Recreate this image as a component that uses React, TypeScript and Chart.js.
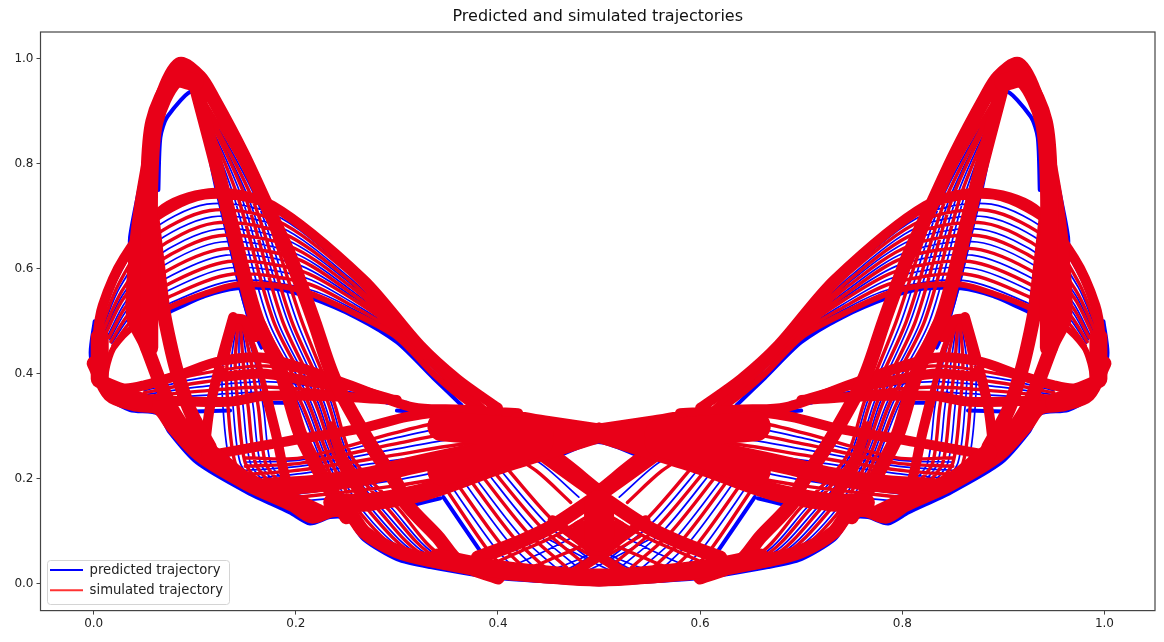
import React, { useEffect, useRef } from "react";
import { Chart, registerables } from "chart.js";
Chart.register(...registerables);

const chartTitle = "Predicted and simulated trajectories";
const xTickValues = [0, 0.2, 0.4, 0.6, 0.8, 1];
const yTickValues = [0, 0.2, 0.4, 0.6, 0.8, 1];

const predictedHatchLeft = [
  [.020,.450,.040,.497,.076,.535,.140,.578,.214,.560,.260,.520,.300,.475,.370,.345],
  [.018,.458,.037,.511,.072,.557,.135,.602,.208,.584,.258,.533,.300,.479,.373,.343],
  [.016,.465,.034,.524,.068,.578,.131,.626,.202,.608,.257,.546,.300,.483,.376,.340],
  [.014,.473,.032,.538,.064,.600,.126,.651,.197,.631,.255,.559,.300,.486,.379,.338],
  [.011,.481,.029,.551,.060,.621,.122,.675,.191,.655,.254,.572,.300,.490,.382,.335],
  [.009,.488,.026,.565,.056,.643,.117,.699,.185,.679,.252,.585,.300,.494,.385,.333],
  [.007,.496,.023,.579,.052,.665,.112,.723,.179,.703,.251,.598,.300,.498,.388,.331],
  [.098,.944,.122,.756,.154,.5,.201,.35,.224,.24,.251,.127,.3,.052,.4,.012],
  [.096,.951,.13,.752,.163,.5,.208,.35,.23,.24,.26,.13,.308,.052,.408,.012],
  [.095,.958,.137,.748,.173,.5,.214,.35,.236,.24,.269,.133,.317,.052,.416,.012],
  [.093,.965,.145,.744,.182,.5,.221,.35,.241,.24,.278,.136,.325,.052,.424,.012],
  [.092,.972,.152,.74,.192,.5,.227,.35,.247,.24,.287,.139,.334,.052,.432,.012],
  [.09,.979,.16,.736,.201,.5,.234,.35,.253,.24,.296,.142,.342,.052,.44,.012],
  [.338,.19,.384,.058,.405,.01],
  [.349,.199,.397,.069,.423,.016],
  [.361,.208,.41,.081,.441,.022],
  [.372,.216,.422,.092,.459,.028],
  [.384,.225,.435,.104,.477,.034],
  [.395,.234,.448,.115,.495,.04],
  [.14,.5,.128,.42,.128,.335,.135,.23,.15,.19],
  [.142,.5,.136,.42,.138,.335,.145,.23,.16,.19],
  [.144,.5,.144,.42,.148,.335,.155,.23,.17,.19],
  [.146,.5,.152,.42,.158,.335,.165,.23,.18,.19],
  [.148,.5,.16,.42,.168,.335,.175,.23,.19,.19],
  [.05,.352,.1,.358,.17,.365,.24,.358,.3,.345],
  [.05,.36,.1,.374,.17,.385,.24,.37,.3,.349],
  [.05,.368,.1,.39,.17,.405,.24,.382,.3,.353],
  [.15,.2,.205,.21,.297,.235,.35,.25,.42,.27],
  [.15,.216,.205,.224,.297,.256,.35,.274,.42,.29],
  [.15,.232,.205,.236,.297,.277,.35,.298,.42,.31],
  [.19,.155,.3,.175,.37,.195],
  [.19,.168,.3,.198,.37,.225],
  [.40,.022,.435,.052,.47,.085,.50,.12],
  [.43,.012,.465,.035,.495,.06,.525,.095],
  [.425,.29,.46,.24,.495,.18],
  [.412,.265,.445,.225,.48,.165],
  [.45,.085,.49,.045,.53,.008],
  [.47,.098,.51,.05,.55,.008],
  [.55,.085,.51,.045,.47,.008],
  [.53,.098,.49,.05,.45,.008],
];

const predictedHatchRight = [
  [.980,.450,.960,.497,.924,.535,.860,.578,.786,.560,.740,.520,.700,.475,.630,.345],
  [.982,.458,.963,.511,.928,.557,.865,.602,.792,.584,.742,.533,.700,.479,.627,.343],
  [.984,.465,.966,.524,.932,.578,.869,.626,.798,.608,.743,.546,.700,.483,.624,.340],
  [.986,.473,.968,.538,.936,.600,.874,.651,.803,.631,.745,.559,.700,.486,.621,.338],
  [.989,.481,.971,.551,.940,.621,.878,.675,.809,.655,.746,.572,.700,.490,.618,.335],
  [.991,.488,.974,.565,.944,.643,.883,.699,.815,.679,.748,.585,.700,.494,.615,.333],
  [.993,.496,.977,.579,.948,.665,.888,.723,.821,.703,.749,.598,.700,.498,.612,.331],
  [.902,.944,.878,.756,.846,.5,.799,.35,.776,.24,.749,.127,.7,.052,.6,.012],
  [.904,.951,.87,.752,.837,.5,.792,.35,.77,.24,.74,.13,.692,.052,.592,.012],
  [.905,.958,.863,.748,.827,.5,.786,.35,.764,.24,.731,.133,.683,.052,.584,.012],
  [.907,.965,.855,.744,.818,.5,.779,.35,.759,.24,.722,.136,.675,.052,.576,.012],
  [.908,.972,.848,.74,.808,.5,.773,.35,.753,.24,.713,.139,.666,.052,.568,.012],
  [.91,.979,.84,.736,.799,.5,.766,.35,.747,.24,.704,.142,.658,.052,.56,.012],
  [.662,.19,.616,.058,.595,.01],
  [.651,.199,.603,.069,.577,.016],
  [.639,.208,.59,.081,.559,.022],
  [.628,.216,.578,.092,.541,.028],
  [.616,.225,.565,.104,.523,.034],
  [.605,.234,.552,.115,.505,.04],
  [.86,.5,.872,.42,.872,.335,.865,.23,.85,.19],
  [.858,.5,.864,.42,.862,.335,.855,.23,.84,.19],
  [.856,.5,.856,.42,.852,.335,.845,.23,.83,.19],
  [.854,.5,.848,.42,.842,.335,.835,.23,.82,.19],
  [.852,.5,.84,.42,.832,.335,.825,.23,.81,.19],
  [.95,.352,.9,.358,.83,.365,.76,.358,.7,.345],
  [.95,.36,.9,.374,.83,.385,.76,.37,.7,.349],
  [.95,.368,.9,.39,.83,.405,.76,.382,.7,.353],
  [.85,.2,.795,.21,.703,.235,.65,.25,.58,.27],
  [.85,.216,.795,.224,.703,.256,.65,.274,.58,.29],
  [.85,.232,.795,.236,.703,.277,.65,.298,.58,.31],
  [.81,.155,.7,.175,.63,.195],
  [.81,.168,.7,.198,.63,.225],
  [.60,.022,.565,.052,.53,.085,.50,.12],
  [.57,.012,.535,.035,.505,.06,.475,.095],
  [.575,.29,.54,.24,.505,.18],
  [.588,.265,.555,.225,.52,.165],
];

const simulatedHatchLeft = [
  [.019,.454,.039,.504,.074,.546,.138,.590,.211,.572,.259,.526,.300,.477,.372,.344],
  [.017,.461,.036,.517,.070,.567,.133,.614,.205,.596,.258,.540,.300,.481,.375,.341],
  [.015,.469,.033,.531,.066,.589,.128,.638,.200,.620,.256,.552,.300,.485,.378,.339],
  [.012,.477,.030,.545,.062,.611,.124,.663,.194,.643,.255,.565,.300,.488,.380,.337],
  [.010,.485,.028,.558,.058,.632,.119,.687,.188,.667,.253,.578,.300,.492,.384,.334],
  [.008,.492,.025,.572,.054,.654,.115,.711,.182,.691,.252,.592,.300,.496,.386,.332],
  [.006,.500,.022,.585,.050,.675,.110,.735,.176,.715,.250,.605,.300,.500,.390,.330],
  [.097,.948,.126,.754,.159,.5,.204,.35,.227,.24,.256,.129,.304,.052,.404,.012],
  [.096,.955,.133,.75,.168,.5,.211,.35,.233,.24,.265,.132,.313,.052,.412,.012],
  [.094,.962,.141,.746,.178,.5,.218,.35,.239,.24,.274,.135,.321,.052,.42,.012],
  [.093,.969,.149,.742,.187,.5,.224,.35,.244,.24,.283,.138,.329,.052,.428,.012],
  [.091,.976,.156,.738,.196,.5,.231,.35,.25,.24,.292,.141,.338,.052,.436,.012],
  [.09,.983,.164,.734,.206,.5,.237,.35,.256,.24,.301,.144,.346,.052,.444,.012],
  [.344,.194,.39,.064,.414,.013],
  [.355,.203,.403,.075,.432,.019],
  [.367,.212,.416,.087,.45,.025],
  [.378,.221,.429,.098,.468,.031],
  [.389,.23,.442,.109,.486,.037],
  [.401,.238,.454,.121,.504,.043],
  [.141,.5,.132,.42,.133,.335,.14,.23,.155,.19],
  [.143,.5,.14,.42,.143,.335,.15,.23,.165,.19],
  [.145,.5,.148,.42,.153,.335,.16,.23,.175,.19],
  [.147,.5,.156,.42,.163,.335,.17,.23,.185,.19],
  [.05,.356,.1,.366,.17,.375,.24,.364,.3,.347],
  [.05,.364,.1,.382,.17,.395,.24,.376,.3,.351],
  [.05,.372,.1,.398,.17,.415,.24,.388,.3,.355],
  [.15,.208,.205,.217,.297,.245,.35,.262,.42,.28],
  [.15,.224,.205,.23,.297,.266,.35,.286,.42,.3],
  [.15,.24,.205,.24,.297,.287,.35,.31,.42,.32],
  [.19,.162,.3,.187,.37,.21],
  [.19,.174,.3,.21,.37,.24],
  [.385,.03,.42,.06,.455,.09,.49,.13],
  [.415,.016,.45,.045,.48,.07,.51,.105],
  [.37,.045,.405,.07,.44,.098],
  [.42,.275,.452,.235,.488,.18],
  [.405,.255,.438,.215,.472,.155],
  [.46,.09,.5,.045,.54,.008],
  [.54,.09,.5,.045,.46,.008],
];

const simulatedHatchRight = [
  [.981,.454,.961,.504,.926,.546,.862,.590,.789,.572,.741,.526,.700,.477,.628,.344],
  [.983,.461,.964,.517,.930,.567,.867,.614,.795,.596,.742,.540,.700,.481,.625,.341],
  [.985,.469,.967,.531,.934,.589,.872,.638,.800,.620,.744,.552,.700,.485,.622,.339],
  [.988,.477,.970,.545,.938,.611,.876,.663,.806,.643,.745,.565,.700,.488,.620,.337],
  [.990,.485,.972,.558,.942,.632,.881,.687,.812,.667,.747,.578,.700,.492,.616,.334],
  [.992,.492,.975,.572,.946,.654,.885,.711,.818,.691,.748,.592,.700,.496,.614,.332],
  [.994,.500,.978,.585,.950,.675,.890,.735,.824,.715,.750,.605,.700,.500,.610,.330],
  [.903,.948,.874,.754,.841,.5,.796,.35,.773,.24,.744,.129,.696,.052,.596,.012],
  [.904,.955,.867,.75,.832,.5,.789,.35,.767,.24,.735,.132,.687,.052,.588,.012],
  [.906,.962,.859,.746,.822,.5,.782,.35,.761,.24,.726,.135,.679,.052,.58,.012],
  [.907,.969,.851,.742,.813,.5,.776,.35,.756,.24,.717,.138,.671,.052,.572,.012],
  [.909,.976,.844,.738,.804,.5,.769,.35,.75,.24,.708,.141,.662,.052,.564,.012],
  [.91,.983,.836,.734,.794,.5,.763,.35,.744,.24,.699,.144,.654,.052,.556,.012],
  [.656,.194,.61,.064,.586,.013],
  [.645,.203,.597,.075,.568,.019],
  [.633,.212,.584,.087,.55,.025],
  [.622,.221,.571,.098,.532,.031],
  [.611,.23,.558,.109,.514,.037],
  [.599,.238,.546,.121,.496,.043],
  [.859,.5,.868,.42,.867,.335,.86,.23,.845,.19],
  [.857,.5,.86,.42,.857,.335,.85,.23,.835,.19],
  [.855,.5,.852,.42,.847,.335,.84,.23,.825,.19],
  [.853,.5,.844,.42,.837,.335,.83,.23,.815,.19],
  [.95,.356,.9,.366,.83,.375,.76,.364,.7,.347],
  [.95,.364,.9,.382,.83,.395,.76,.376,.7,.351],
  [.95,.372,.9,.398,.83,.415,.76,.388,.7,.355],
  [.85,.208,.795,.217,.703,.245,.65,.262,.58,.28],
  [.85,.224,.795,.23,.703,.266,.65,.286,.58,.3],
  [.85,.24,.795,.24,.703,.287,.65,.31,.58,.32],
  [.81,.162,.7,.187,.63,.21],
  [.81,.174,.7,.21,.63,.24],
  [.615,.03,.58,.06,.545,.09,.51,.13],
  [.585,.016,.55,.045,.52,.07,.49,.105],
  [.63,.045,.595,.07,.56,.098],
  [.58,.275,.548,.235,.512,.18],
  [.595,.255,.562,.215,.528,.155],
];

const predictedOutlines = [
  [.001,.5,-.003,.44,.002,.39,.016,.352,.036,.331,.064,.324,.075,.289,.102,.231,.152,.174,.194,.136,.214,.115,.234,.127,.251,.125,.267,.085,.3,.047,.333,.032,.4,.011,.5,-.001],
  [.999,.5,1.003,.44,.998,.39,.984,.352,.964,.331,.936,.324,.925,.289,.898,.231,.848,.174,.806,.136,.786,.115,.766,.127,.749,.125,.733,.085,.7,.047,.667,.032,.6,.011,.5,-.001],
  [.037,.6,.036,.66,.047,.77,.056,.86],
  [.963,.6,.964,.66,.953,.77,.944,.86],
  [.064,.75,.066,.85,.073,.89,.098,.936,.122,.748,.153,.508,.166,.45],
  [.936,.75,.934,.85,.927,.89,.902,.936,.878,.748,.847,.508,.834,.45],
  [.0755,.518,.11,.548,.142,.563,.18,.562,.214,.545,.26,.507,.3,.46,.336,.392,.364,.34],
  [.9245,.518,.89,.548,.858,.563,.82,.562,.786,.545,.74,.507,.7,.46,.664,.392,.636,.34],
  [.458,.243,.499,.27,.541,.243],
  [.437,.265,.494,.19],
  [.563,.265,.506,.19],
  [.316,.15,.343,.163],
  [.684,.15,.657,.163],
  [.346,.165,.384,.058],
  [.654,.165,.616,.058],
  [.1,.328,.135,.33],
  [.9,.328,.865,.33],
  [.178,.345,.19,.345],
  [.822,.345,.81,.345],
  [.29,.345,.31,.345],
  [.71,.345,.69,.345],
  [.3,.33,.33,.325],
  [.7,.33,.67,.325],
];

const simulatedNarrowBands = [
  [.148,.5,.16,.44,.172,.35],
  [.852,.5,.84,.44,.828,.35],
  [.011,.39,.014,.42,.02,.45,.04,.49,.0755,.527,.11,.553,.142,.57,.18,.568,.214,.553,.26,.513,.3,.47,.336,.4,.37,.345,.4,.31,.458,.248,.499,.186],
  [.989,.39,.986,.42,.98,.45,.96,.49,.9245,.527,.89,.553,.858,.57,.82,.568,.786,.553,.74,.513,.7,.47,.664,.4,.63,.345,.6,.31,.542,.248,.501,.186],
];

const simulatedMediumBands = [
  [.005,.41,.004,.47,.009,.53,.03,.62,.07,.715,.12,.745,.177,.72,.267,.58,.323,.455,.36,.39,.4,.335],
  [.995,.41,.996,.47,.991,.53,.97,.62,.93,.715,.88,.745,.823,.72,.733,.58,.677,.455,.64,.39,.6,.335],
  [.138,.508,.127,.432,.115,.336,.11,.26],
  [.862,.508,.873,.432,.885,.336,.89,.26],
  [.138,.505,.148,.503,.16,.47],
  [.862,.505,.852,.503,.84,.47],
  [.012,.385,.03,.372,.05,.378,.085,.398,.125,.424,.17,.43,.244,.385,.316,.336,.36,.332,.4,.326,.45,.31,.5,.296],
  [.988,.385,.97,.372,.95,.378,.915,.398,.875,.424,.83,.43,.756,.385,.684,.336,.64,.332,.6,.326,.55,.31,.5,.296],
  [.115,.245,.187,.27,.267,.297,.31,.318,.36,.33,.42,.325],
  [.885,.245,.813,.27,.733,.297,.69,.318,.64,.33,.58,.325],
  [.172,.35,.181,.28,.19,.2,.2,.16],
  [.828,.35,.819,.28,.81,.2,.8,.16],
  [.02,.362,.05,.352,.1,.347,.135,.347,.17,.358,.24,.357,.3,.35],
  [.98,.362,.95,.352,.9,.347,.865,.347,.83,.358,.76,.357,.7,.35],
  [.454,.121,.481,.083,.499,.055,.534,.01],
  [.546,.121,.519,.083,.501,.055,.466,.01],
  [.13,.395,.17,.4,.24,.375],
  [.87,.395,.83,.4,.76,.375],
  [.235,.3,.25,.22,.27,.16],
  [.765,.3,.75,.22,.73,.16],
];

const simulatedWideBands = [
  [.042,.5,.041,.62,.047,.72,.056,.82,.066,.92,.085,.99,.105,.965,.118,.925,.147,.82,.17,.725,.195,.62,.218,.5,.238,.39,.273,.268,.3,.19,.309,.153,.34,.09,.362,.04,.4,.012],
  [.958,.5,.959,.62,.953,.72,.944,.82,.934,.92,.915,.99,.895,.965,.882,.925,.853,.82,.83,.725,.805,.62,.782,.5,.762,.39,.727,.268,.7,.19,.691,.153,.66,.09,.638,.04,.6,.012],
  [.102,.94,.127,.756,.158,.516,.165,.489,.187,.394,.204,.287,.221,.222,.25,.127],
  [.898,.94,.873,.756,.842,.516,.835,.489,.813,.394,.796,.287,.779,.222,.75,.127],
  [.04,.6,.039,.508,.051,.458,.066,.382,.078,.331,.108,.241],
  [.96,.6,.961,.508,.949,.458,.934,.382,.922,.331,.892,.241],
  [.058,.7,.064,.6,.069,.521,.0755,.458,.082,.407,.095,.331,.115,.26],
  [.942,.7,.936,.6,.931,.521,.9245,.458,.918,.407,.905,.331,.885,.26],
  [.0,.42,.016,.36,.04,.342,.064,.335,.078,.3,.105,.245,.155,.187,.197,.15,.216,.128,.236,.14,.252,.137,.268,.098,.3,.062,.333,.045,.4,.022,.5,.008],
  [1.0,.42,.984,.36,.96,.342,.936,.335,.922,.3,.895,.245,.845,.187,.803,.15,.784,.128,.764,.14,.748,.137,.732,.098,.7,.062,.667,.045,.6,.022,.5,.008],
  [.38,.05,.419,.078,.454,.11,.497,.165,.548,.235,.6,.31],
  [.62,.05,.581,.078,.546,.11,.503,.165,.452,.235,.4,.31],
];

const simulatedBroadBands = [
  [.055,.45,.055,.62,.055,.76,.06,.88,.08,.96,.1,.955],
  [.945,.45,.945,.62,.945,.76,.94,.88,.92,.96,.9,.955],
  [.115,.25,.15,.197,.2,.155,.222,.135],
  [.885,.25,.85,.197,.8,.155,.778,.135],
  [.006,.39,.006,.47],
  [.994,.39,.994,.47],
  [.015,.37,.05,.345],
  [.985,.37,.95,.345],
  [.17,.185,.217,.19,.27,.205,.313,.225,.4,.26,.46,.28,.5,.29],
  [.83,.185,.783,.19,.73,.205,.687,.225,.6,.26,.54,.28,.5,.29],
  [.236,.155,.27,.155,.316,.17,.343,.185,.4,.225,.458,.26,.499,.285],
  [.764,.155,.73,.155,.684,.17,.657,.185,.6,.225,.542,.26,.501,.285],
  [.34,.05,.4,.028,.5,.012,.6,.028,.66,.05],
  [.42,.31,.5,.288,.58,.31],
  [.482,.105,.5,.07,.518,.105],
];

const simulatedCoreBands = [
  [.345,.3,.44,.285],
  [.655,.3,.56,.285],
  [.345,.215,.4,.25,.44,.27],
  [.655,.215,.6,.25,.56,.27],
  [.5,.15,.5,.09],
];

const toPoints = (strands: number[][]) =>
  strands.flatMap((s) => {
    const pts: { x: number; y: number }[] = [];
    for (let i = 0; i < s.length; i += 2) pts.push({ x: s[i], y: s[i + 1] });
    pts.push({ x: NaN, y: NaN });
    return pts;
  });

const BLUE = "#0000ff";
const SOFT_RED = "rgba(255,0,0,0.8)";
const DEEP_RED = "#e80018";

const line = (label: string, strands: number[][], color: string, width: number, order: number, tension = 0.3) => ({
  label,
  data: toPoints(strands),
  showLine: true,
  borderColor: color,
  backgroundColor: color,
  borderWidth: width,
  pointRadius: 0,
  tension,
  order,
  borderJoinStyle: "round" as const,
  borderCapStyle: "round" as const,
  pointStyle: "line" as const,
});

const framePlugin = {
  id: "frame",
  beforeDraw(chart: any) {
    const lg = chart.legend;
    const c = chart.ctx;
    c.save();
    c.fillStyle = "#ffffff";
    c.strokeStyle = "#d4d4d4";
    c.lineWidth = 1;
    c.beginPath();
    c.roundRect(47.5, 560.5, 182, 44, 3);
    c.fill();
    c.stroke();
    c.restore();
    if (lg) {
      lg.left = 43;
      lg.right = 400;
      lg.top = 556.5;
      lg.bottom = 640;
      lg.width = 357;
      lg.height = 83.5;
    }
  },
  afterDraw(chart: any) {
    const { left, top, right, bottom } = chart.chartArea;
    const c = chart.ctx;
    c.save();
    c.strokeStyle = "#444444";
    c.lineWidth = 1.2;
    c.strokeRect(left, top, right - left, bottom - top);
    c.restore();
  },
};

export default function App() {
  const ref = useRef<HTMLCanvasElement>(null);
  useEffect(() => {
    document.body.style.margin = "0";
    document.body.style.background = "#ffffff";
    const font = { family: "'DejaVu Sans'", size: 12 };
    const chart = new Chart(ref.current!, {
      type: "scatter",
      data: {
        datasets: [
          line("predicted trajectory", [...predictedHatchLeft, ...predictedHatchRight], BLUE, 1.7, 7),
          line("simulated trajectory", [...simulatedHatchLeft, ...simulatedHatchRight], DEEP_RED, 3.4, 6),
          line("", predictedOutlines, BLUE, 4, 8, 0.25),
          line("", simulatedNarrowBands, DEEP_RED, 6, 5),
          line("", simulatedMediumBands, DEEP_RED, 10, 4),
          line("", simulatedWideBands, DEEP_RED, 14, 3),
          line("", simulatedBroadBands, DEEP_RED, 18, 2),
          line("", simulatedCoreBands, DEEP_RED, 30, 1),
        ],
      },
      options: {
        responsive: false,
        animation: false,
        layout: { padding: { left: 0, right: 9, top: 0, bottom: 0 } },
        plugins: {
          tooltip: { enabled: false },
          title: {
            display: true,
            text: chartTitle,
            color: "#111111",
            fullSize: false,
            font: { family: "'DejaVu Sans'", size: 16, weight: "normal" },
            padding: { top: 7.5, bottom: 5.3 },
          },
          legend: {
            display: true,
            position: "chartArea",
            align: "start",
            labels: {
              filter: (item: any) => item.text !== "",
              sort: (a: any, b: any) => a.datasetIndex - b.datasetIndex,
              generateLabels: (chart: any) =>
                Chart.defaults.plugins.legend.labels.generateLabels(chart).map((item: any) => ({
                  ...item,
                  lineWidth: 2,
                  strokeStyle: item.datasetIndex === 1 ? SOFT_RED : item.strokeStyle,
                })),
              color: "#222222",
              font: { family: "'DejaVu Sans'", size: 13.2 },
              usePointStyle: true,
              pointStyleWidth: 33,
              padding: 7,
            },
          },
        },
        scales: {
          x: {
            type: "linear",
            min: -0.0526,
            max: 1.05,
            afterFit: (s: any) => { s.height = 31.4; },
            afterBuildTicks: (s: any) => { s.ticks = xTickValues.map((value) => ({ value })); },
            border: { display: false },
            grid: { drawOnChartArea: false, drawTicks: true, tickLength: 4, color: "#444444" },
            ticks: { color: "#222222", font, padding: 2, maxRotation: 0, callback: (v: any) => Number(v).toFixed(1) },
          },
          y: {
            type: "linear",
            min: -0.051,
            max: 1.051,
            afterFit: (s: any) => { s.width = 40.5; },
            afterBuildTicks: (s: any) => { s.ticks = yTickValues.map((value) => ({ value })); },
            border: { display: false },
            grid: { drawOnChartArea: false, drawTicks: true, tickLength: 4, color: "#444444" },
            ticks: { color: "#222222", font, padding: 3, callback: (v: any) => Number(v).toFixed(1) },
          },
        },
      } as any,
      plugins: [framePlugin],
    });
    return () => chart.destroy();
  }, []);
  return (
    <div style={{ width: 1164, height: 642 }}>
      <canvas ref={ref} width={1164} height={642} style={{ display: "block" }} />
    </div>
  );
}
